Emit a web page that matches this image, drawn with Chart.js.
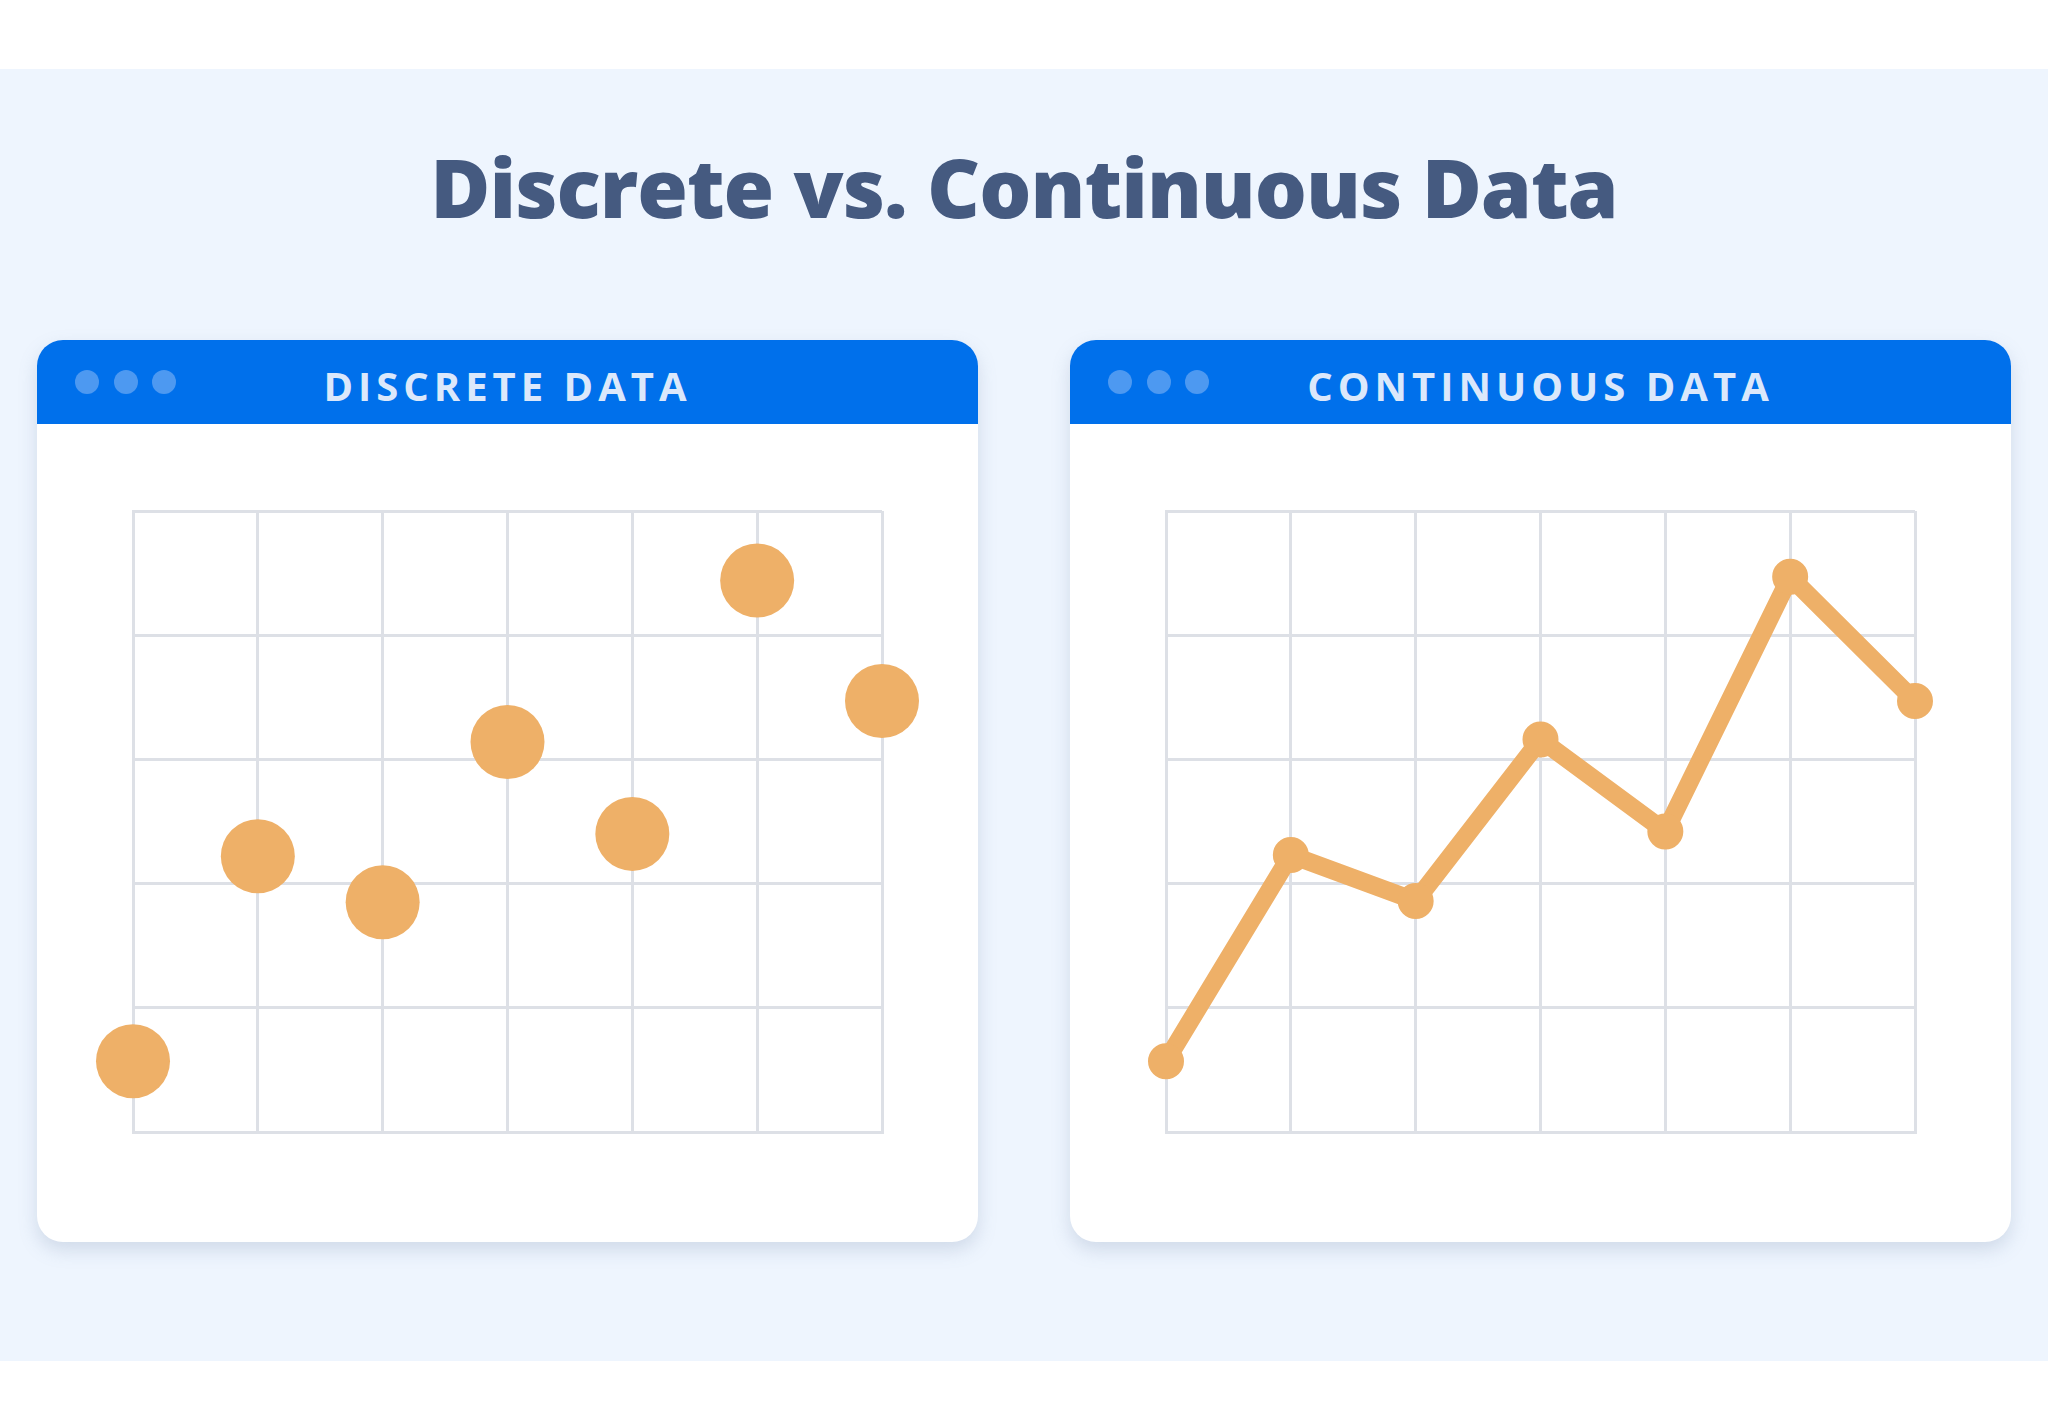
<!DOCTYPE html>
<html><head><meta charset="utf-8">
<script src="https://cdn.jsdelivr.net/npm/chart.js@4"></script>
<style>
body{margin:0;width:2048px;height:1411px;background:#fff;font-family:"Open Sans",sans-serif;position:relative;overflow:hidden}
.band{position:absolute;left:0;top:69px;width:2048px;height:1292px;background:#eef5fe}
h1{position:absolute;top:130px;left:0;width:2048px;text-align:center;margin:0;font-size:82px;font-weight:800;color:#455a80;letter-spacing:-1px}
.panel{position:absolute;top:340px;width:941px;height:902px;background:#fff;border-radius:26px;box-shadow:0 8px 18px rgba(120,140,170,.25);overflow:hidden}
.head{height:84px;background:#0070eb;position:relative}
.head span.t{position:absolute;left:0;width:941px;text-align:center;top:18px;font-size:40px;font-weight:700;letter-spacing:5px;color:#dbe8fb}
.dot{position:absolute;top:30px;width:24px;height:24px;border-radius:50%;background:#4d99f1}
.wrap{position:absolute;top:131px;left:56px;width:829px;height:701px}
</style></head><body>
<div class="band"></div>
<h1>Discrete vs. Continuous Data</h1>
<div class="panel" style="left:37px"><div class="head"><div class="dot" style="left:38px"></div><div class="dot" style="left:77px"></div><div class="dot" style="left:115px"></div><span class="t">DISCRETE DATA</span></div><div class="wrap"><canvas id="c1"></canvas></div></div>
<div class="panel" style="left:1070px"><div class="head"><div class="dot" style="left:38px"></div><div class="dot" style="left:77px"></div><div class="dot" style="left:115px"></div><span class="t">CONTINUOUS DATA</span></div><div class="wrap"><canvas id="c2"></canvas></div></div>
<script>
const xValues = [0, 1, 2, 3, 4, 5, 6];
const discreteValues = [0.57, 2.22, 1.85, 3.14, 2.4, 4.44, 3.47];
const continuousValues = [0.57, 2.23, 1.86, 3.16, 2.42, 4.47, 3.47];
const orange = '#eeb068';

function makeChart(id, values, isLine) {
    new Chart(document.getElementById(id), {
        type: 'scatter',
        data: {
            datasets: [{
                data: xValues.map((x, i) => ({x: x, y: values[i]})),
                showLine: isLine,
                borderColor: orange,
                backgroundColor: orange,
                borderWidth: isLine ? 18 : 0,
                pointRadius: isLine ? 9 : 37,
                borderJoinStyle: 'round',
                borderCapStyle: 'round',
                clip: false
            }]
        },
        options: {
            responsive: true, maintainAspectRatio: false, animation: false,
            layout: {padding: 40},
            plugins: {legend: {display: false}, tooltip: {enabled: false}},
            scales: {
                x: {min: 0, max: 6, ticks: {display: false, stepSize: 1},
                    grid: {color: '#dde0e6', lineWidth: 3, drawTicks: false},
                    border: {color: '#dde0e6', width: 3}},
                y: {min: 0, max: 5, ticks: {display: false, stepSize: 1},
                    grid: {color: '#dde0e6', lineWidth: 3, drawTicks: false},
                    border: {color: '#dde0e6', width: 3}}
            }
        }
    });
}
makeChart('c1', discreteValues, false);
makeChart('c2', continuousValues, true);
</script>
</body></html>
